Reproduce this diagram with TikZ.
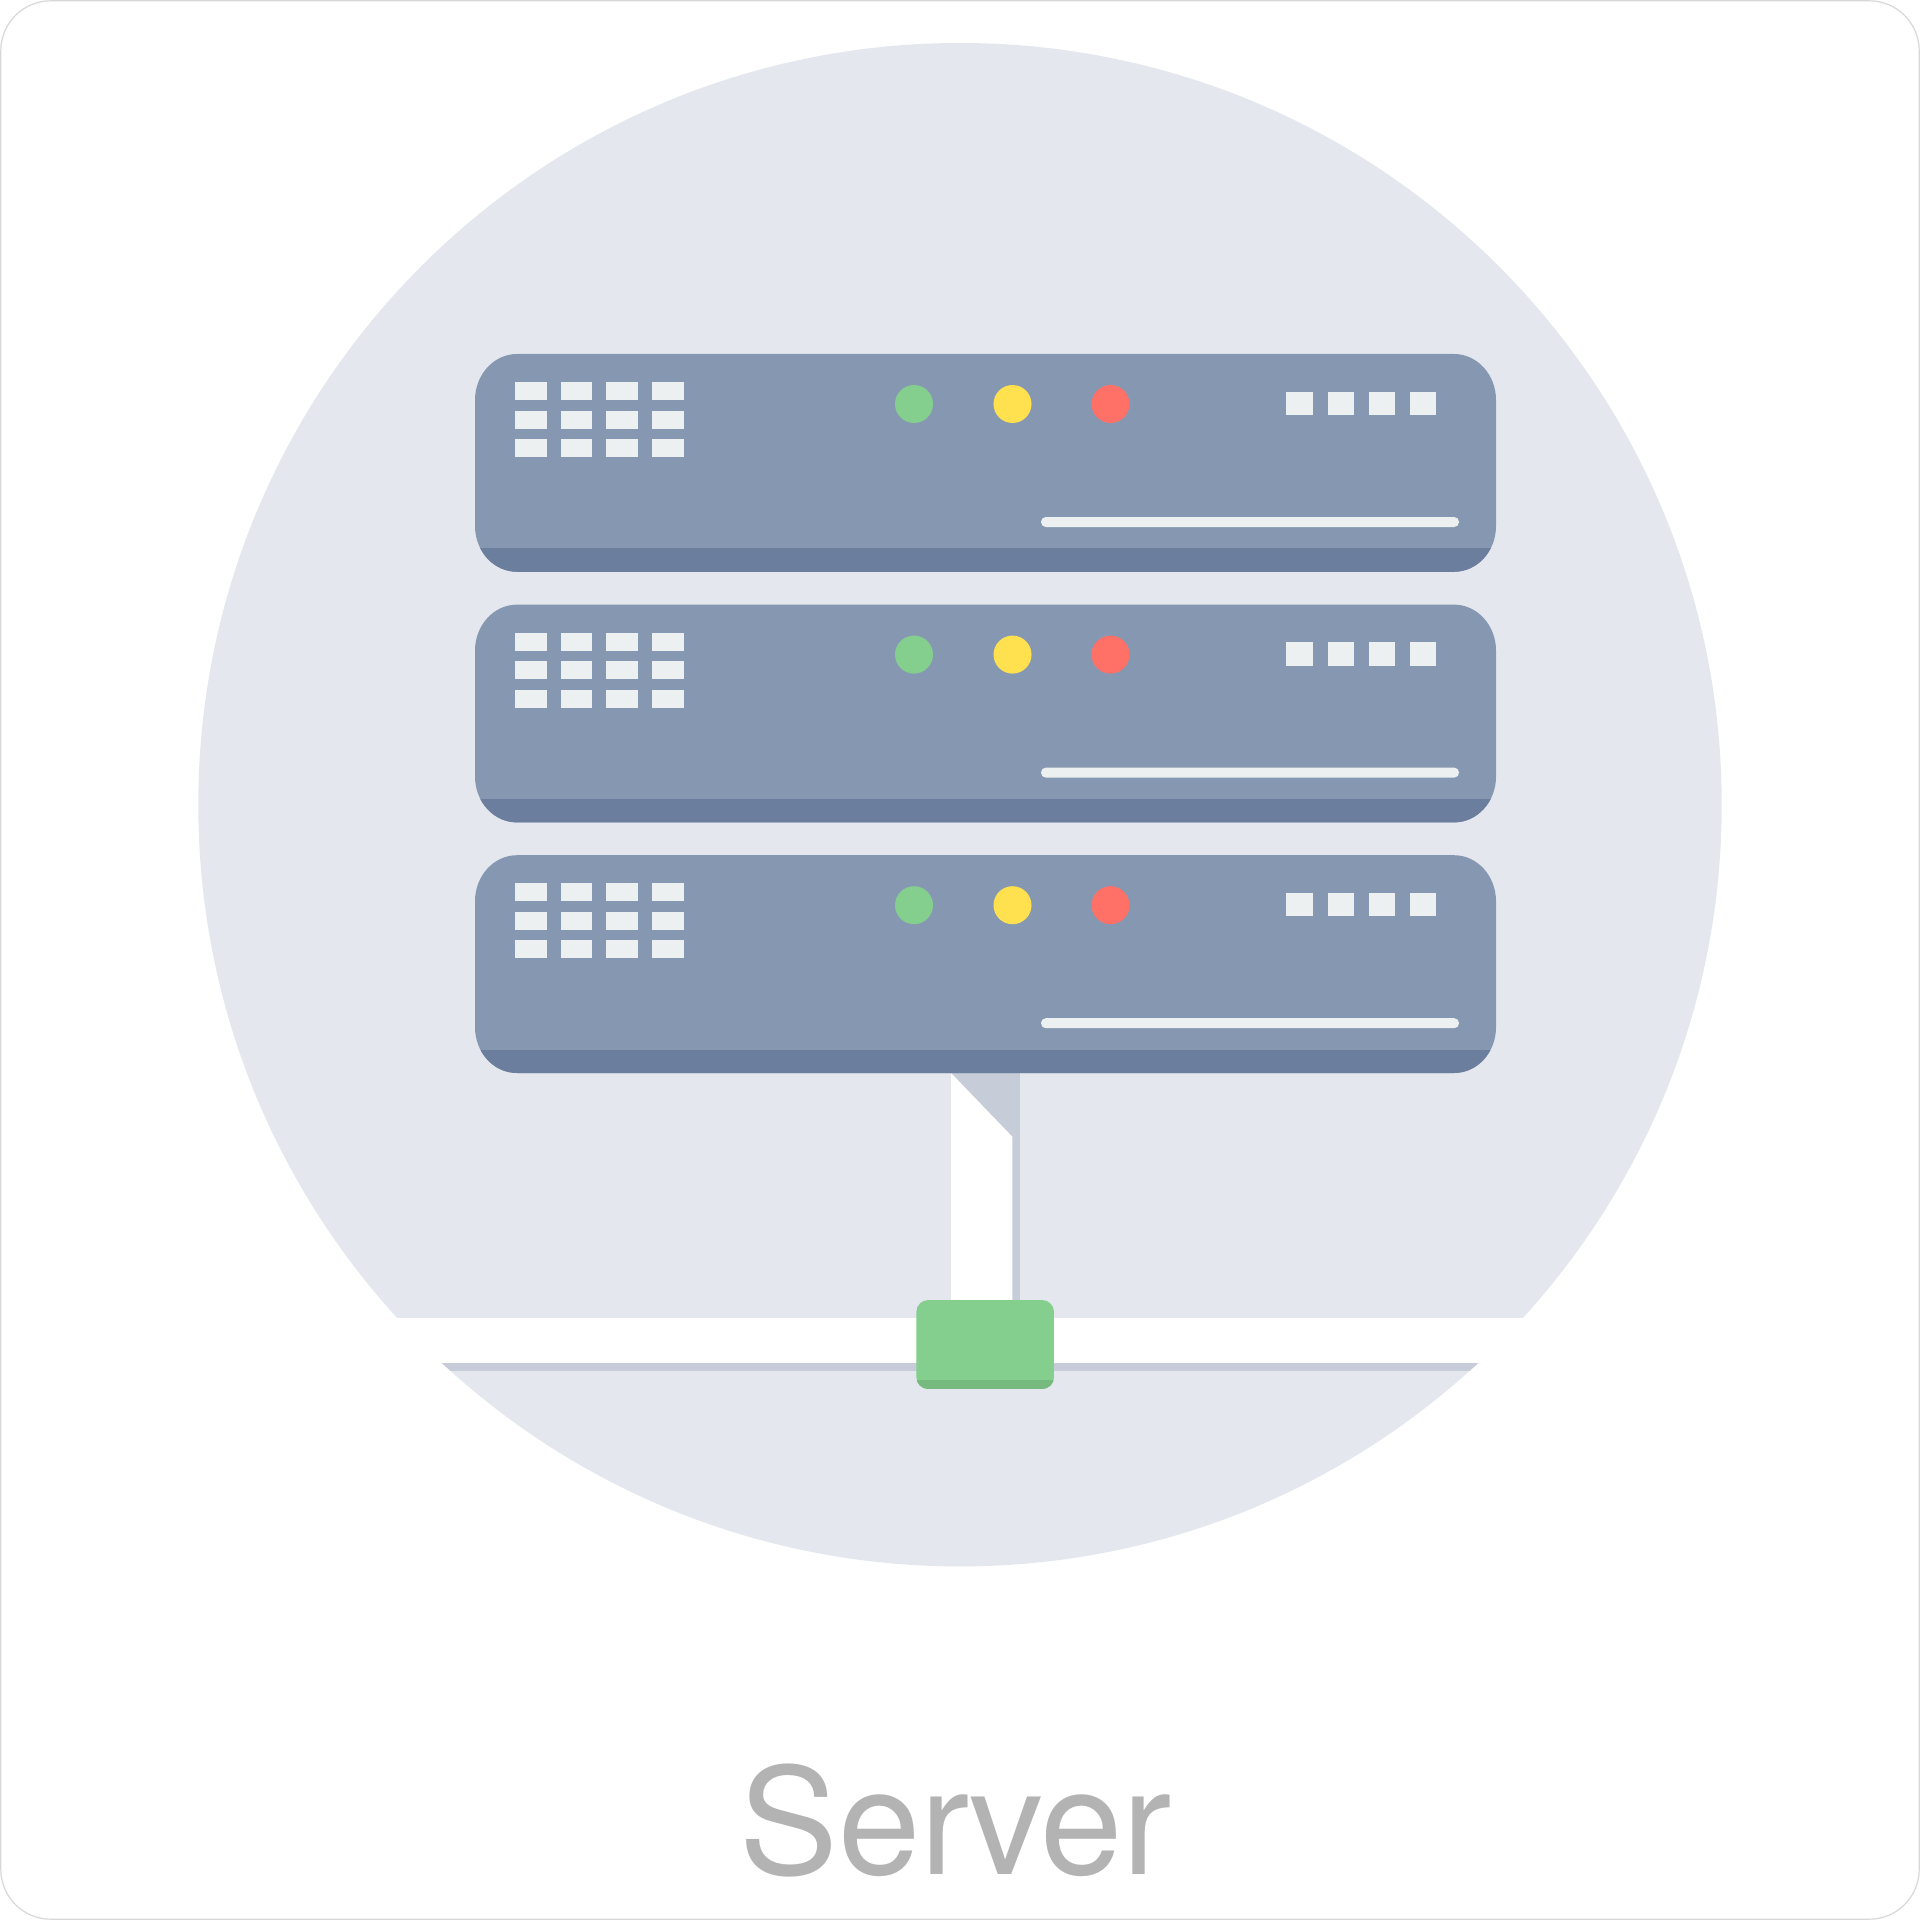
\documentclass[tikz,border=0pt]{standalone}
\usepackage{fontspec}
\setmainfont{TeX Gyre Heros}
\definecolor{disc}{HTML}{E4E7EE}
\definecolor{bodymain}{HTML}{8698B1}
\definecolor{bodydark}{HTML}{6B7E9E}
\definecolor{slot}{HTML}{ECF0F1}
\definecolor{ledgreen}{HTML}{84CF8E}
\definecolor{ledyellow}{HTML}{FFE04F}
\definecolor{ledred}{HTML}{FF7066}
\definecolor{greendark}{HTML}{76BA80}
\definecolor{greyshade}{HTML}{C7CCD9}
\definecolor{labelgrey}{HTML}{B3B3B3}
\definecolor{framegrey}{HTML}{D8D8D8}
\tikzset{
  slotfill/.style={fill=slot},
  serverbar/.style={fill=slot,rounded corners=2.4pt},
  led/.style={radius=19}
}
% rounded case outline with elliptical corners (42 wide, 46 high)
\newcommand{\casepath}{(475,400) .. controls (475,374.6) and (493.8,354) .. (517,354)
  -- (1454,354) .. controls (1477.2,354) and (1496,374.6) .. (1496,400)
  -- (1496,526) .. controls (1496,551.4) and (1477.2,571.8) .. (1454,571.8)
  -- (517,571.8) .. controls (493.8,571.8) and (475,551.4) .. (475,526) -- cycle}
\begin{document}
\begin{tikzpicture}[x=0.5pt,y=-0.5pt]
\useasboundingbox (0,0) rectangle (1920,1920);
\fill[white] (0,0) rectangle (1920,1920);
\draw[framegrey,line width=0.6pt,rounded corners=25pt] (0.8,0.8) rectangle (1919.2,1919.2);
% disc
\fill[disc] (960,804.7) circle [radius=761.7];
% stem
\fill[greyshade] (951,1073) rectangle (1020,1310);
\fill[white] (951,1073) -- (1012.3,1136.7) -- (1012.3,1310) -- (951,1310) -- cycle;
% shelf
\begin{scope}
  \clip (960,804.7) circle [radius=761.7];
  \fill[greyshade] (0,1362.7) rectangle (1920,1371);
\end{scope}
\begin{scope}
  \clip (960,804.7) circle [radius=763];
  \fill[white] (0,1317.7) rectangle (1920,1362.7);
\end{scope}
% switch
\begin{scope}
  \clip[rounded corners=6pt] (916.3,1300) rectangle (1054,1389);
  \fill[ledgreen] (916.3,1300) rectangle (1054,1389);
  \fill[greendark] (916.3,1380) rectangle (1054,1389);
\end{scope}
% servers
\foreach \s in {0,250.6,501.2}{
\begin{scope}[shift={(0,\s)}]
  \begin{scope}
    \clip \casepath;
    \fill[bodymain] (470,350) rectangle (1500,575);
    \fill[bodydark] (470,548.3) rectangle (1500,575);
  \end{scope}
  \foreach \x in {515,560.7,606.3,652}
    \foreach \y in {382,410.5,439}
      \fill[slotfill] (\x,\y) rectangle +(31.7,18);
  \foreach \x in {1286.3,1327.7,1369,1410}
    \fill[slotfill] (\x,391.7) rectangle +(26.2,23.3);
  \fill[ledgreen] (914,404) circle [led];
  \fill[ledyellow] (1012.5,404) circle [led];
  \fill[ledred] (1110.5,404) circle [led];
  \fill[serverbar] (1041,517) rectangle (1459,527);
\end{scope}
}
\node[anchor=base,inner sep=0pt,text=labelgrey,font=\fontsize{74pt}{74pt}\selectfont] (title) at (955.8,1874) {Ser\kern-0.4pt ve\kern0.2pt r};
\end{tikzpicture}
\end{document}
